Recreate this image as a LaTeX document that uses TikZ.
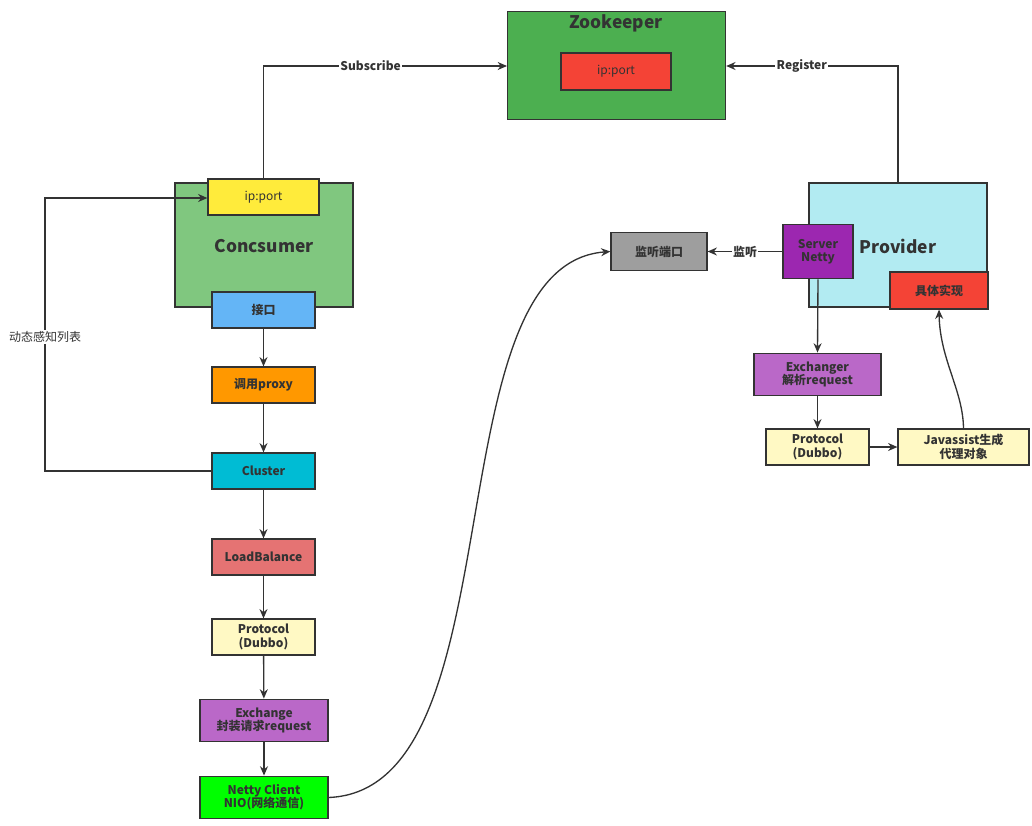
\documentclass[tikz,border=0pt]{standalone}
\usepackage{fontspec}
\setmainfont{Noto Sans CJK SC}
\usetikzlibrary{arrows.meta}
\definecolor{zk}{HTML}{4CAF50}
\definecolor{cons}{HTML}{80C77F}
\definecolor{yel}{HTML}{FFEB3B}
\definecolor{blu}{HTML}{64B5F6}
\definecolor{ora}{HTML}{FF9800}
\definecolor{cya}{HTML}{00BCD4}
\definecolor{lb}{HTML}{E57373}
\definecolor{ly}{HTML}{FFF9C4}
\definecolor{pur}{HTML}{BA68C8}
\definecolor{dpur}{HTML}{9C27B0}
\definecolor{grn}{HTML}{00FF00}
\definecolor{gry}{HTML}{9E9E9E}
\definecolor{prov}{HTML}{B2EBF2}
\definecolor{rd}{HTML}{F44336}
\definecolor{ln}{HTML}{333333}
\begin{document}
\begin{tikzpicture}[x=0.75pt,y=-0.75pt,
  box/.style={draw=ln,line width=0.9pt,font=\bfseries\fontsize{9}{10}\selectfont,text=ln,align=center,inner sep=0pt},
  arr/.style={draw=ln,line width=1pt,-{Stealth[length=7pt,width=6pt]}},
  lab/.style={fill=white,font=\bfseries\fontsize{9}{10}\selectfont,text=ln,inner sep=1pt}]
\useasboundingbox (0,0) rectangle (1032,825);
\newcommand{\bx}[6]{\node[box,fill=#2,minimum width={(#5-#3)*0.75pt},minimum height={(#6-#4)*0.75pt}] (#1) at ({(#3+#5)/2},{(#4+#6)/2}) {#2x};}
% containers
\node[box,fill=zk,minimum width=163.5pt,minimum height=81pt,anchor=north west] (zk) at (507,11) {};
\node[font=\bfseries\fontsize{13}{14}\selectfont,text=ln] (zkt) at (616,23) {Zookeeper};
\node[box,fill=rd,font=\fontsize{9}{10}\selectfont,minimum width=82.5pt,minimum height=27.75pt] (zip) at (616,71.5) {ip:port};
\node[box,fill=cons,minimum width=133.5pt,minimum height=93pt] (cons) at (264,245) {};
\node[font=\bfseries\fontsize{13}{14}\selectfont,text=ln] (const) at (264,246) {Concsumer};
\node[box,fill=yel,font=\fontsize{9}{10}\selectfont,minimum width=83.25pt,minimum height=27pt] (cip) at (263.5,197) {ip:port};
\node[box,fill=blu,minimum width=77.25pt,minimum height=27pt] (jk) at (263.5,310) {接口};
\node[box,fill=ora,minimum width=77.25pt,minimum height=27pt] (proxy) at (263.5,385) {调用proxy};
\node[box,fill=cya,minimum width=77.25pt,minimum height=27pt] (cluster) at (263.5,471) {Cluster};
\node[box,fill=lb,minimum width=77.25pt,minimum height=27pt] (lbn) at (263.5,557) {LoadBalance};
\node[box,fill=ly,minimum width=77.25pt,minimum height=27pt] (proto) at (263.5,637) {Protocol\\(Dubbo)};
\node[box,fill=pur,minimum width=96pt,minimum height=32pt] (exch) at (264,720.5) {Exchange\\封装请求request};
\node[box,fill=grn,minimum width=96pt,minimum height=32pt] (netty) at (264,797.5) {Netty Client\\NIO(网络通信)};
\node[box,fill=gry,minimum width=72pt,minimum height=29pt] (listen) at (659,251.5) {监听端口};
\node[box,fill=prov,minimum width=133.5pt,minimum height=93pt] (prov) at (898,245) {};
\node[font=\bfseries\fontsize{13}{14}\selectfont,text=ln] (provt) at (898,246) {Provider};
\node[box,fill=dpur,minimum width=52.5pt,minimum height=41pt] (server) at (818,251.5) {Server\\Netty};
\node[box,fill=rd,minimum width=73.5pt,minimum height=27.75pt] (impl) at (939,290.5) {具体实现};
\node[box,fill=pur,minimum width=95.25pt,minimum height=32pt] (exr) at (817.5,374.5) {Exchanger\\解析request};
\node[box,fill=ly,minimum width=77.25pt,minimum height=27pt] (pproto) at (817.5,447) {Protocol\\(Dubbo)};
\node[box,fill=ly,minimum width=98.25pt,minimum height=27pt] (jav) at (963.5,447) {Javassist生成\\代理对象};
% connectors
\draw[arr] (cip.north) |- (zk.west |- 0,66) node[lab,pos=0.72] {Subscribe};
\draw[arr] (prov.north) |- (zk.east |- 0,66) node[lab,pos=0.78] {Register};
\draw[arr] (cluster.west) -- (45,471) -- (45,198) node[pos=0.49,fill=white,font=\fontsize{9}{10}\selectfont,text=ln,inner sep=1pt] {动态感知列表} -- (cip.west |- 0,198);
\draw[arr] (jk) -- (proxy);
\draw[arr] (proxy) -- (cluster);
\draw[arr] (cluster) -- (lbn);
\draw[arr] (lbn) -- (proto);
\draw[arr] (proto) -- (exch);
\draw[arr] (exch) -- (netty);
\draw[arr] (netty.east) .. controls (520,790) and (430,265) .. (listen.west);
\draw[arr] (server.west) -- (listen.east) node[lab,midway] {监听};
\draw[arr] (server.south) -- (exr.north);
\draw[arr] (exr) -- (pproto);
\draw[arr] (pproto) -- (jav);
\draw[arr] (jav.north) .. controls (963,390) and (940,360) .. (impl.south);
\end{tikzpicture}
\end{document}
